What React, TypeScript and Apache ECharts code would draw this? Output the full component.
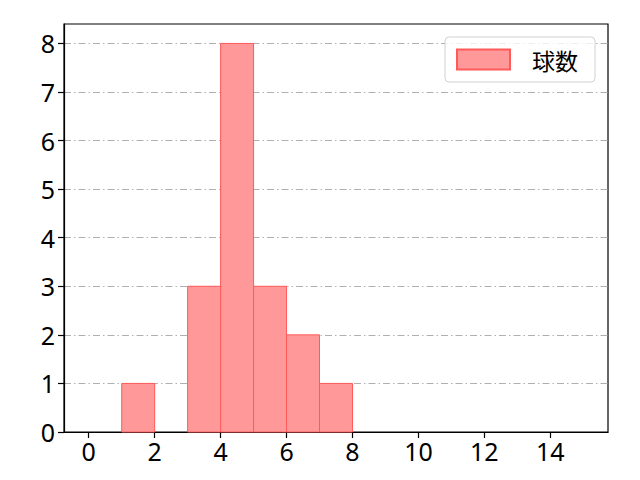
import React, { useEffect, useRef } from "react";
import * as echarts from "echarts";

const binStarts = [0, 1, 2, 3, 4, 5, 6, 7, 8, 9, 10, 11, 12, 13, 14];
const binEnds = [1, 2, 3, 4, 5, 6, 7, 8, 9, 10, 11, 12, 13, 14, 15];
const counts = [0, 1, 0, 3, 8, 3, 2, 1, 0, 0, 0, 0, 0, 0, 0];
const xTicks = [0, 2, 4, 6, 8, 10, 12, 14];
const yTicks = [0, 1, 2, 3, 4, 5, 6, 7, 8];
const seriesName = "球数";

const FONT = "Noto Sans CJK JP";
const TICK_FONT = "Noto Sans";
const TICK_FS = 25;

export default function App() {
  const ref = useRef<HTMLDivElement>(null);
  useEffect(() => {
    if (!ref.current) return;
    const chart = echarts.init(ref.current, null, { renderer: "svg" });
    const data = binStarts.map((s, i) => [s, binEnds[i], counts[i]]);
    const labelStyle = {
      fontSize: TICK_FS,
      fontFamily: TICK_FONT,
      color: "#000",
    };
    chart.setOption({
      animation: false,
      textStyle: { fontFamily: FONT },
      grid: {
        left: 64,
        right: 32,
        top: 24,
        bottom: 48,
        show: true,
        borderColor: "#000",
        borderWidth: 1.2,
        backgroundColor: "transparent",
        containLabel: false,
      },
      legend: {
        right: 45,
        top: 37,
        padding: [11, 17, 11, 11],
        itemWidth: 53,
        itemHeight: 20,
        backgroundColor: "rgba(255,255,255,0.8)",
        borderColor: "#d0d0d0",
        borderWidth: 1,
        borderRadius: 4,
        textStyle: {
          fontSize: 23,
          color: "#000",
          fontFamily: FONT,
          padding: [0, 0, 0, 17],
          lineHeight: 23,
        },
        data: [{ name: seriesName, icon: "rect" }],
      },
      xAxis: {
        type: "value",
        min: -0.75,
        max: 15.75,
        axisLine: { show: true, onZero: false, lineStyle: { color: "#000", width: 1.2 } },
        axisTick: {
          show: true,
          length: 6,
          customValues: xTicks,
          lineStyle: { color: "#000", width: 1.2 },
        },
        axisLabel: {
          show: true,
          customValues: xTicks,
          margin: 6,
          ...labelStyle,
        },
        splitLine: { show: false },
      },
      yAxis: {
        type: "value",
        min: 0,
        max: 8.4,
        interval: 1,
        axisLine: { show: true, onZero: false, lineStyle: { color: "#000", width: 1.2 } },
        axisTick: {
          show: true,
          length: 6,
          customValues: yTicks,
          lineStyle: { color: "#000", width: 1.2 },
        },
        axisLabel: {
          show: true,
          customValues: yTicks,
          margin: 9,
          ...labelStyle,
        },
        splitLine: {
          show: true,
          lineStyle: { color: "#b0b0b0", width: 1, type: [7, 3, 1.5, 3] },
        },
      },
      series: [
        {
          name: seriesName,
          type: "custom",
          itemStyle: { color: "#ff9999", borderColor: "#ff5a5a", borderWidth: 1 },
          encode: { x: [0, 1], y: 2 },
          data,
          renderItem: (params: any, api: any) => {
            const h = api.value(2);
            if (!h) return null;
            const p0 = api.coord([api.value(0), h]);
            const p1 = api.coord([api.value(1), 0]);
            return {
              type: "rect",
              shape: { x: p0[0], y: p0[1], width: p1[0] - p0[0], height: p1[1] - p0[1] },
              style: { fill: "#ff9999", stroke: "#ff5a5a", lineWidth: 1 },
            };
          },
        },
      ],
    });
    return () => chart.dispose();
  }, []);
  return (
    <div
      ref={ref}
      style={{ position: "fixed", left: 0, top: 0, width: 640, height: 480, background: "#fff" }}
    />
  );
}
